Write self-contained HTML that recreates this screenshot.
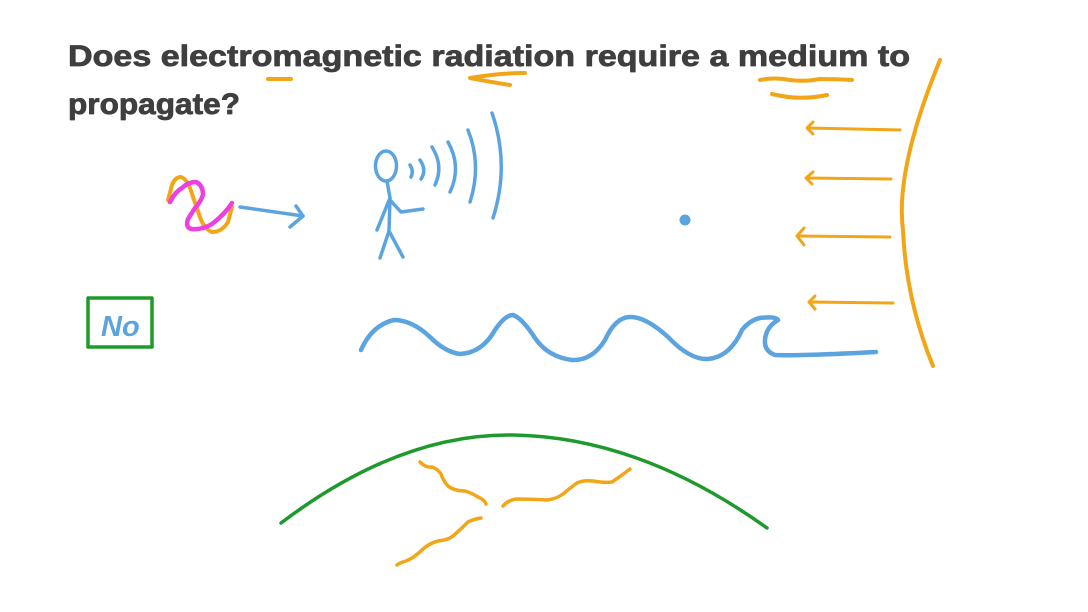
<!DOCTYPE html>
<html>
<head>
<meta charset="utf-8">
<style>
html,body{margin:0;padding:0;background:#fff;}
svg{display:block;}
text{font-family:"Liberation Sans",sans-serif;font-weight:bold;}
</style>
</head>
<body>
<svg width="1088" height="612" viewBox="0 0 1088 612" xmlns="http://www.w3.org/2000/svg">
<rect width="1088" height="612" fill="#fff"/>
<g fill="none" stroke-linecap="round" stroke-linejoin="round">

<!-- Title -->
<text x="68" y="66" font-size="30" fill="#3f3f3f" stroke="#3f3f3f" stroke-width="0.8" textLength="842" lengthAdjust="spacingAndGlyphs">Does electromagnetic radiation require a medium to</text>
<text x="68" y="114" font-size="30" fill="#3f3f3f" stroke="#3f3f3f" stroke-width="0.8" textLength="172" lengthAdjust="spacingAndGlyphs">propagate?</text>

<!-- orange underlines -->
<g stroke="#f2a516" stroke-width="4">
<path d="M268 79 L291 79"/>
<path d="M525 73 Q500 73 470 78 Q490 82 510 85"/>
<path d="M760 80 Q775 77 790 80 Q805 82 820 79 Q835 79 852 80"/>
<path d="M772 94 Q800 101 827 95"/>
</g>

<!-- EM wave -->
<path d="M168 200 L172 185 Q175 177 181 177 Q188 179 193 197 L200 217 Q204 229 212 232 Q222 232 228 222 L232 207" stroke="#f2a516" stroke-width="4"/>
<path d="M170 202 Q175 192 182 188 Q188 182 196 182 Q203 185 203 195 Q200 203 195 208 L188 219 Q185 228 192 229 Q202 230 212 224 Q225 214 232 203" stroke="#ee3fe0" stroke-width="4.5"/>

<!-- blue arrow -->
<g stroke="#5ba4df" stroke-width="3.5">
<path d="M240 207 L303 216"/>
<path d="M296 206 L303 216 L290 227"/>
</g>

<!-- stick figure -->
<g stroke="#5ba4df" stroke-width="3.5">
<ellipse cx="386" cy="166" rx="10.5" ry="15"/>
<path d="M387 181 L390 198 L389 231"/>
<path d="M390 198 L377 230"/>
<path d="M389 231 L380 258"/>
<path d="M389 231 L403 257"/>
<path d="M390 200 L401 212 L423 209"/>
<path d="M410 165 Q414 171 411 177"/>
<path d="M420 160 Q427 170 421 179"/>
<path d="M432 147 Q444 166 435 185"/>
<path d="M448 142 Q462 167 450 192"/>
<path d="M468 130 Q482 165 470 202"/>
<path d="M492 113 Q510 165 493 218"/>
</g>

<!-- dot -->
<circle cx="685" cy="220" r="5.5" fill="#5ba4df"/>

<!-- right orange arc -->
<path d="M940 60 Q895 170 903 230 Q906 300 933 366" stroke="#f2a516" stroke-width="4"/>

<!-- orange arrows -->
<g stroke="#f2a516" stroke-width="3">
<path d="M900 130 L808 128"/>
<path d="M813 122 L807 128 L813 134"/>
<path d="M891 179 L807 178"/>
<path d="M813 172 L806 178 L812 184"/>
<path d="M890 237 L798 236"/>
<path d="M804 228 L797 236 L804 245"/>
<path d="M893 303 L810 302"/>
<path d="M815 296 L809 302 L815 309"/>
</g>

<!-- blue wave -->
<path d="M361 350 Q372 325 394 320 Q412 320 430 337 Q445 352 460 354 Q482 353 495 330 Q505 315 513 315 Q522 318 535 338 Q548 357 572 360 Q592 361 605 340 Q615 318 629 317 Q645 316 668 337 Q690 360 708 359 Q730 357 742 330 Q750 320 760 318 Q776 316 778 320 Q766 327 765 340 Q764 351 775 355 Q800 356 876 352" stroke="#5ba4df" stroke-width="4.5"/>

<!-- No box -->
<rect x="88" y="298" width="64" height="49" stroke="#1e9a2c" stroke-width="3.5"/>
<text x="101" y="336" font-size="29" fill="#5ba4df" font-style="italic" stroke="none">No</text>

<!-- green arc -->
<path d="M281 523 Q400 433 513 435 Q640 437 767 528" stroke="#1e9a2c" stroke-width="3.5"/>

<!-- orange cracks -->
<g stroke="#f2a516" stroke-width="3.5">
<path d="M420 462 Q426 468 432 467 Q438 469 441 474 Q445 485 451 488 Q457 491 465 491 Q472 493 478 497 Q485 500 486 504"/>
<path d="M503 506 Q508 500 517 499 Q530 499 547 500 Q556 499 563 494 Q570 488 577 483 Q583 480 593 481 Q605 483 612 482 Q621 476 630 469"/>
<path d="M481 518 Q474 519 468 522 Q460 530 453 536 Q448 540 438 541 Q430 543 423 549 Q414 558 406 561 Q399 563 397 565"/>
</g>
</g>
</svg>
</body>
</html>
